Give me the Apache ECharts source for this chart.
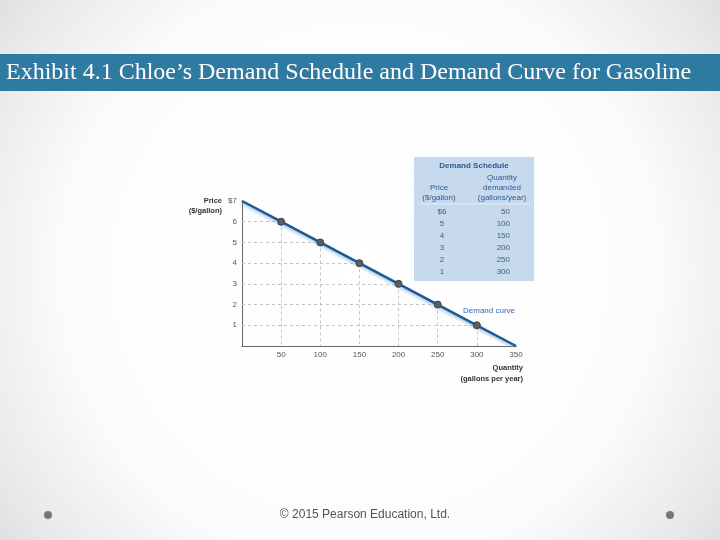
<!DOCTYPE html>
<html>
<head>
<meta charset="utf-8">
<script src="https://cdn.jsdelivr.net/npm/echarts@6/dist/echarts.min.js"></script>
<style>
  html, body { margin: 0; padding: 0; }
  #chart { width: 720px; height: 540px; }
</style>
</head>
<body>
<div id="chart"></div>
<script>
// Datos de la curva de demanda
const quantities = [0, 50, 100, 150, 200, 250, 300, 350];
const prices = [7, 6, 5, 4, 3, 2, 1, 0];
const xTicks = [50, 100, 150, 200, 250, 300, 350];
const yTicks = ['', '1', '2', '3', '4', '5', '6', '$7'];

// Tabla de demanda
const tablePrices = ['$6', '5', '4', '3', '2', '1'];
const tableQty = ['50', '100', '150', '200', '250', '300'];

const titleText = 'Exhibit 4.1 Chloe\u2019s Demand Schedule and Demand Curve for Gasoline';
const footerText = '\u00a9 2015 Pearson Education, Ltd.';

const chart = echarts.init(document.getElementById('chart'));

const lineData = quantities.map((q, i) => [q, prices[i]]);
const guides = [];
lineData.forEach(([q, p]) => {
    if (q === 0 || p === 0) return;
    guides.push([{ coord: [0, p] }, { coord: [q, p] }]);
    guides.push([{ coord: [q, p] }, { coord: [q, 0] }]);
});

const sans = 'Liberation Sans, Arial, sans-serif';
const tableColor = '#3b5f86';
const tableTexts = [];
tablePrices.forEach((p, i) => {
    tableTexts.push({
        type: 'text', x: 442, y: 212 + i * 12,
        style: { text: p, align: 'center', verticalAlign: 'middle', fill: tableColor, font: '8px ' + sans }
    });
    tableTexts.push({
        type: 'text', x: 510, y: 212 + i * 12,
        style: { text: tableQty[i], align: 'right', verticalAlign: 'middle', fill: tableColor, font: '8px ' + sans }
    });
});

chart.setOption({
    animation: false,
    grid: { left: 242, right: 204, top: 201, bottom: 194 },
    xAxis: {
        type: 'value',
        min: 0, max: 350, interval: 50,
        axisLine: { lineStyle: { color: '#666', width: 1 } },
        axisTick: { show: false },
        splitLine: { show: false },
        axisLabel: {
            color: '#555', fontSize: 8, fontFamily: sans, margin: 5,
            formatter: v => (xTicks.includes(v) ? String(v) : '')
        }
    },
    yAxis: {
        type: 'value',
        min: 0, max: 7, interval: 1,
        axisLine: { show: true, lineStyle: { color: '#666', width: 1 } },
        axisTick: { show: false },
        splitLine: { show: false },
        axisLabel: {
            color: '#555', fontSize: 8, fontFamily: sans, margin: 5,
            formatter: v => yTicks[v] || ''
        }
    },
    series: [{
        type: 'line',
        data: lineData,
        lineStyle: {
            color: '#1d5a93', width: 2.5,
            shadowColor: 'rgba(120,170,220,0.7)', shadowBlur: 3, shadowOffsetY: 2
        },
        symbol: 'circle',
        symbolSize: (v) => (v[0] === 0 || v[1] === 0 ? 0 : 7),
        showSymbol: true,
        itemStyle: { color: '#5a5d62', borderColor: '#3f4246', borderWidth: 1 },
        z: 5,
        markLine: {
            silent: true,
            symbol: ['none', 'none'],
            label: { show: false },
            lineStyle: { color: '#c4c4c4', type: [3, 3], width: 1 },
            data: guides,
            z: 1
        }
    }],
    graphic: [
        {
            type: 'rect', z: -10, shape: { x: 0, y: 0, width: 720, height: 540 },
            style: {
                fill: new echarts.graphic.RadialGradient(0.5, 0.5, 0.9, [
                    { offset: 0, color: '#ffffff' },
                    { offset: 0.6, color: '#fcfcfc' },
                    { offset: 0.85, color: '#e8e8e8' },
                    { offset: 1, color: '#d8d8d8' }
                ])
            }
        },
        {
            type: 'rect', shape: { x: 0, y: 54, width: 720, height: 37 },
            style: { fill: '#2f7aa1' }
        },
        {
            type: 'text', x: 6, y: 73,
            style: {
                text: titleText, fill: '#ffffff', verticalAlign: 'middle',
                font: '24px Liberation Serif, Times New Roman, serif'
            }
        },
        // Tabla
        {
            type: 'rect', shape: { x: 414, y: 157, width: 120, height: 124 },
            style: { fill: '#c7d9ed' }
        },
        {
            type: 'line', shape: { x1: 420, y1: 204, x2: 530, y2: 204 },
            style: { stroke: '#e2ecf6', lineWidth: 1 }
        },
        {
            type: 'text', x: 474, y: 166,
            style: { text: 'Demand Schedule', align: 'center', verticalAlign: 'middle', fill: '#2b5c93', font: 'bold 8px ' + sans }
        },
        {
            type: 'text', x: 502, y: 173,
            style: { text: 'Quantity\ndemanded\n(gallons/year)', align: 'center', lineHeight: 10, fill: '#2b5c93', font: '8px ' + sans }
        },
        {
            type: 'text', x: 439, y: 183,
            style: { text: 'Price\n($/gallon)', align: 'center', lineHeight: 10, fill: '#2b5c93', font: '8px ' + sans }
        },
        ...tableTexts,
        // Etiquetas de ejes
        {
            type: 'text', x: 222, y: 196,
            style: { text: 'Price\n($/gallon)', align: 'right', lineHeight: 10, fill: '#333', font: 'bold 7.5px ' + sans }
        },
        {
            type: 'text', x: 523, y: 362,
            style: { text: 'Quantity\n(gallons per year)', align: 'right', lineHeight: 11, fill: '#333', font: 'bold 7.5px ' + sans }
        },
        {
            type: 'text', x: 463, y: 311,
            style: { text: 'Demand curve', verticalAlign: 'middle', fill: '#2e6cab', font: '8px ' + sans }
        },
        // Pie de página
        {
            type: 'text', x: 365, y: 515,
            style: {
                text: footerText, fill: '#555', align: 'center', verticalAlign: 'middle',
                font: '12px Liberation Sans Narrow, Liberation Sans, Arial, sans-serif'
            }
        },
        { type: 'circle', shape: { cx: 48, cy: 515, r: 4 }, style: { fill: '#777' } },
        { type: 'circle', shape: { cx: 670, cy: 515, r: 4 }, style: { fill: '#777' } }
    ]
});
</script>
</body>
</html>
